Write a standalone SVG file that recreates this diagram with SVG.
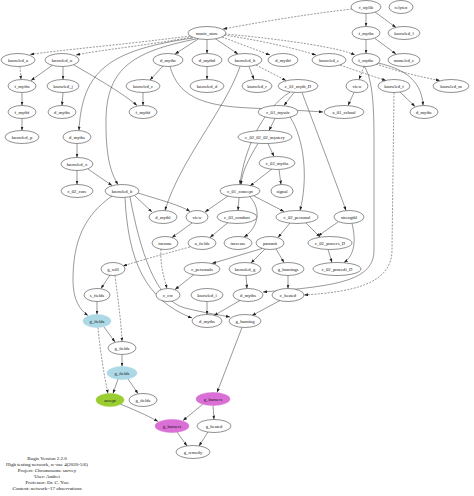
<svg xmlns="http://www.w3.org/2000/svg" width="474" height="496" viewBox="0 0 474 496">
<style>
.n ellipse{fill:#fff;stroke:#333;stroke-width:0.55}
.n text{font-family:"Liberation Serif",serif;font-size:4.6px;text-anchor:middle;fill:#111}
.e path{fill:none;stroke:#333;stroke-width:0.5;marker-end:url(#a)}
.e path.d{stroke-dasharray:2,1.3}
.ft{font-family:"Liberation Serif",serif;font-size:5px;text-anchor:middle;fill:#111}
.blue ellipse{fill:#add8e6;stroke:#add8e6}
.green ellipse{fill:#9acd32;stroke:#9acd32}
.pink ellipse{fill:#da70d6;stroke:#da70d6}
</style>
<defs>
<marker id="a" markerUnits="userSpaceOnUse" markerWidth="4" markerHeight="3" refX="4" refY="1.5" orient="auto"><path d="M0,0 L4,1.5 L0,3 z" fill="#222"/></marker>
</defs>
<rect width="474" height="496" fill="#fff"/>
<g id="edges" class="e">
<path class="d" d="M190,36 C120,45 60,50 30,54.5"/>
<path class="d" d="M192,37 C150,45 100,50 76,55"/>
<path d="M193,38 C110,50 82,70 79,130.5"/>
<path d="M196,39 C130,52 105,70 106,125 C106,160 112,175 118,184.5"/>
<path d="M199,38.5 L175,54"/>
<path d="M207,39.5 L207,53.5"/>
<path d="M215,38.5 L238,54"/>
<path class="d" d="M222,37 L270,55"/>
<path class="d" d="M224,35 C270,42 300,50 316,55"/>
<path class="d" d="M225,34 C290,40 340,48 355,55"/>
<path class="d" d="M352,9 C300,15 250,24 223,29"/>
<path d="M366,13.5 L366,26.5"/>
<path d="M375,12 L396,27.5"/>
<path d="M366,39.5 L366,53.5"/>
<path d="M375,38.5 L396,54"/>
<path class="d" d="M364,66.5 L359,79.5"/>
<path class="d" d="M340,65 C360,72 375,77 386,80.5"/>
<path class="d" d="M376,64 C400,72 425,78 440,80.5"/>
<path d="M378,63 C410,70 422,85 423,105.5"/>
<path d="M400,92 L415,106.5"/>
<path d="M354,92.5 L348,105.5"/>
<path d="M170,66.5 C178,95 200,106 250,108 C290,110 310,111 323,112"/>
<path d="M163,66 L150,80"/>
<path d="M52,65.5 L31,80.5"/>
<path d="M63,66.5 L63,79.5"/>
<path d="M74,65 C100,80 125,95 137,105.5"/>
<path class="d" d="M20,66.5 L21,79.5"/>
<path d="M22,92.5 L22,105.5"/>
<path d="M63,92.5 L62,105.5"/>
<path d="M143,92.5 L143,105.5"/>
<path d="M22,118.5 L22,130.5"/>
<path d="M207,66.5 L207,79.5"/>
<path d="M249,66.5 L254,79.5"/>
<path class="d" d="M256,65 L286,80.5"/>
<path d="M240,66.5 C225,110 180,160 165,210.5"/>
<path d="M290,92 C262,110 244,150 240,184.5"/>
<path d="M294,92.5 L284,105.5"/>
<path d="M302,92.5 C320,140 335,180 346,210.5"/>
<path d="M275,118.5 L269,130.5"/>
<path d="M290,117 C305,140 308,180 300,210.5"/>
<path d="M268,143.5 L274,156.5"/>
<path d="M258,143.5 C248,160 242,172 241,184.5"/>
<path d="M279,169.5 L281,184.5"/>
<path d="M272,169 L250,186"/>
<path d="M135,196 L152,212"/>
<path d="M138,193 C160,200 180,205 190,211.5"/>
<path d="M228,196 L205,212"/>
<path d="M239,197.5 L238,210.5"/>
<path d="M254,196 L284,211.5"/>
<path d="M250,197 C262,210 258,228 244,237"/>
<path d="M192,223 L172,237.5"/>
<path d="M228,222.5 L210,237.5"/>
<path d="M290,223 L278,237.5"/>
<path d="M306,223 L320,237"/>
<path d="M338,222 L318,236"/>
<path d="M352,223.5 C356,240 355,255 344,262.5"/>
<path d="M328,249.5 L332,262.5"/>
<path d="M262,248.5 L212,263.5"/>
<path d="M265,249 L251,263"/>
<path d="M276,249 L284,262.5"/>
<path class="d" d="M190,247 C160,255 135,262 123,266"/>
<path class="d" d="M161,249 C160,265 164,278 167,288.5"/>
<path d="M194,274.5 L175,289.5"/>
<path d="M246,275.5 L247,288.5"/>
<path d="M288,275.5 L288,288.5"/>
<path d="M207,301.5 L207,314.5"/>
<path d="M240,300.5 L214,315.5"/>
<path d="M280,300.5 L252,315.5"/>
<path d="M362,63 C372,75 374,100 374,140 L374,250 C374,280 340,286 263,292"/>
<path class="d" d="M394,92.5 L392,250 C392,285 350,292 304,295"/>
<path d="M125,197.5 C128,260 145,300 192,318"/>
<path d="M130,197 C140,250 155,300 185,308 C205,313 220,315 230,317"/>
<path d="M112,196 C85,215 73,240 73,280 C73,300 80,310 88,315.5"/>
<path d="M77,170.5 L77,184.5"/>
<path d="M88,169 L112,185.5"/>
<path d="M77,143.5 L77,157.5"/>
<path d="M110,275 L101,288.5"/>
<path class="d" d="M115,275.5 C118,300 121,320 122,341.5"/>
<path d="M97,301.5 L97,314.5"/>
<path d="M104,327 L115,342"/>
<path class="d" d="M98,327.5 C100,350 104,375 108,393.5"/>
<path d="M122,354.5 L122,366.5"/>
<path d="M118,379 L113,393.5"/>
<path d="M128,379 L138,393.5"/>
<path d="M120,404 C140,412 152,418 158,421.5"/>
<path d="M242,327.5 L217,392.5"/>
<path d="M203,404 L183,420.5"/>
<path d="M213,405.5 L214,419.5"/>
<path d="M177,432 L187,446"/>
<path d="M208,432 L199,446"/>
</g>
<g id="f_stylib" class="n"><ellipse cx="366" cy="7" rx="15" ry="6.5"/><text x="366" y="8.6">f_stylib</text></g>
<g id="relyten" class="n"><ellipse cx="401" cy="7" rx="12" ry="6.5"/><text x="401" y="8.6">relyten</text></g>
<g id="music_store" class="n"><ellipse cx="207" cy="33" rx="19" ry="6.5"/><text x="207" y="34.6">music_store</text></g>
<g id="f_myths_a" class="n"><ellipse cx="366" cy="33" rx="14" ry="6.5"/><text x="366" y="34.6">f_myths</text></g>
<g id="knowled_l" class="n"><ellipse cx="404" cy="33" rx="16" ry="6.5"/><text x="404" y="34.6">knowled_l</text></g>
<g id="knowled_a" class="n"><ellipse cx="18" cy="60" rx="17" ry="6.5"/><text x="18" y="61.6">knowled_a</text></g>
<g id="knowled_n" class="n"><ellipse cx="62" cy="60" rx="17" ry="6.5"/><text x="62" y="61.6">knowled_n</text></g>
<g id="d_mythc" class="n"><ellipse cx="168" cy="60" rx="15" ry="6.5"/><text x="168" y="61.6">d_mythc</text></g>
<g id="d_mythd" class="n"><ellipse cx="207" cy="60" rx="15" ry="6.5"/><text x="207" y="61.6">d_mythd</text></g>
<g id="knowled_h" class="n"><ellipse cx="245" cy="60" rx="17" ry="6.5"/><text x="245" y="61.6">knowled_h</text></g>
<g id="d_mythf" class="n"><ellipse cx="283" cy="60" rx="15" ry="6.5"/><text x="283" y="61.6">d_mythf</text></g>
<g id="knowled_e" class="n"><ellipse cx="329" cy="60" rx="17" ry="6.5"/><text x="329" y="61.6">knowled_e</text></g>
<g id="f_mythe" class="n"><ellipse cx="366" cy="60" rx="14" ry="6.5"/><text x="366" y="61.6">f_mythe</text></g>
<g id="knowled_o" class="n"><ellipse cx="404" cy="60" rx="16" ry="6.5"/><text x="404" y="61.6">moneled_c</text></g>
<g id="f_mythk" class="n"><ellipse cx="22" cy="86" rx="14" ry="6.5"/><text x="22" y="87.6">f_myths</text></g>
<g id="knowled_j" class="n"><ellipse cx="63" cy="86" rx="16" ry="6.5"/><text x="63" y="87.6">knowled_j</text></g>
<g id="knowled_c" class="n"><ellipse cx="143" cy="86" rx="17" ry="6.5"/><text x="143" y="87.6">knowled_c</text></g>
<g id="knowled_d" class="n"><ellipse cx="207" cy="86" rx="17" ry="6.5"/><text x="207" y="87.6">knowled_d</text></g>
<g id="knowled_r" class="n"><ellipse cx="257" cy="86" rx="15" ry="6.5"/><text x="257" y="87.6">knowled_r</text></g>
<g id="c_01_myth_D" class="n"><ellipse cx="298" cy="86" rx="20" ry="6.5"/><text x="298" y="87.6">c_01_myth_D</text></g>
<g id="view_a" class="n"><ellipse cx="357" cy="86" rx="11" ry="6.5"/><text x="357" y="87.6">view</text></g>
<g id="knowled_f" class="n"><ellipse cx="394" cy="86" rx="16" ry="6.5"/><text x="394" y="87.6">knowled_f</text></g>
<g id="knowled_m" class="n"><ellipse cx="451" cy="86" rx="18" ry="6.5"/><text x="451" y="87.6">knowled_m</text></g>
<g id="f_mythf" class="n"><ellipse cx="22" cy="112" rx="14" ry="6.5"/><text x="22" y="113.6">f_mythf</text></g>
<g id="d_myths1" class="n"><ellipse cx="62" cy="112" rx="14" ry="6.5"/><text x="62" y="113.6">d_myths</text></g>
<g id="f_mythg" class="n"><ellipse cx="143" cy="112" rx="14" ry="6.5"/><text x="143" y="113.6">f_mythf</text></g>
<g id="c_01_mystic" class="n"><ellipse cx="278" cy="112" rx="20" ry="6.5"/><text x="278" y="113.6">c_01_mystic</text></g>
<g id="a_01_school" class="n"><ellipse cx="344" cy="112" rx="20" ry="6.5"/><text x="344" y="113.6">a_01_school</text></g>
<g id="d_mythe" class="n"><ellipse cx="424" cy="112" rx="14" ry="6.5"/><text x="424" y="113.6">d_mythe</text></g>
<g id="knowled_p" class="n"><ellipse cx="22" cy="137" rx="17" ry="6.5"/><text x="22" y="138.6">knowled_p</text></g>
<g id="d_myths2" class="n"><ellipse cx="77" cy="137" rx="14" ry="6.5"/><text x="77" y="138.6">d_myths</text></g>
<g id="c_02_mystery" class="n"><ellipse cx="265" cy="137" rx="27" ry="6.5"/><text x="265" y="138.6">c_02_02_02_mystery</text></g>
<g id="knowled_x" class="n"><ellipse cx="77" cy="164" rx="16" ry="6.5"/><text x="77" y="165.6">knowled_x</text></g>
<g id="c_02_myths" class="n"><ellipse cx="277" cy="163" rx="18" ry="6.5"/><text x="277" y="164.6">c_02_myths</text></g>
<g id="c_02_core" class="n"><ellipse cx="77" cy="191" rx="16" ry="6.5"/><text x="77" y="192.6">c_02_core</text></g>
<g id="knowled_b" class="n"><ellipse cx="122" cy="191" rx="17" ry="6.5"/><text x="122" y="192.6">knowled_b</text></g>
<g id="c_01_concept" class="n"><ellipse cx="240" cy="191" rx="20" ry="6.5"/><text x="240" y="192.6">c_01_concept</text></g>
<g id="signal" class="n"><ellipse cx="282" cy="191" rx="11" ry="6.5"/><text x="282" y="192.6">signal</text></g>
<g id="d_mythl" class="n"><ellipse cx="163" cy="217" rx="14" ry="6.5"/><text x="163" y="218.6">d_mythl</text></g>
<g id="view_b" class="n"><ellipse cx="197" cy="217" rx="11" ry="6.5"/><text x="197" y="218.6">view</text></g>
<g id="c_03_conduct" class="n"><ellipse cx="237" cy="217" rx="20" ry="6.5"/><text x="237" y="218.6">c_03_conduct</text></g>
<g id="c_02_personal" class="n"><ellipse cx="297" cy="217" rx="21" ry="6.5"/><text x="297" y="218.6">c_02_personal</text></g>
<g id="strength" class="n"><ellipse cx="349" cy="217" rx="15" ry="6.5"/><text x="349" y="218.6">strengthl</text></g>
<g id="income" class="n"><ellipse cx="165" cy="243" rx="13" ry="6.5"/><text x="165" y="244.6">income</text></g>
<g id="a_fields" class="n"><ellipse cx="202" cy="243" rx="14" ry="6.5"/><text x="202" y="244.6">a_fields</text></g>
<g id="increase" class="n"><ellipse cx="238" cy="243" rx="14" ry="6.5"/><text x="238" y="244.6">increase</text></g>
<g id="paramit" class="n"><ellipse cx="270" cy="243" rx="14" ry="6.5"/><text x="270" y="244.6">paramit</text></g>
<g id="c_02_powers_D" class="n"><ellipse cx="330" cy="243" rx="22" ry="6.5"/><text x="330" y="244.6">c_02_powers_D</text></g>
<g id="g_will" class="n"><ellipse cx="113" cy="269" rx="12" ry="6.5"/><text x="113" y="270.6">g_will</text></g>
<g id="c_personals" class="n"><ellipse cx="202" cy="269" rx="18" ry="6.5"/><text x="202" y="270.6">c_personals</text></g>
<g id="knowled_g" class="n"><ellipse cx="245" cy="269" rx="16" ry="6.5"/><text x="245" y="270.6">knowled_g</text></g>
<g id="g_burnings" class="n"><ellipse cx="288" cy="269" rx="16" ry="6.5"/><text x="288" y="270.6">g_burnings</text></g>
<g id="c_02_procedi_D" class="n"><ellipse cx="337" cy="269" rx="24" ry="6.5"/><text x="337" y="270.6">c_02_procedi_D</text></g>
<g id="s_fields" class="n"><ellipse cx="97" cy="295" rx="13" ry="6.5"/><text x="97" y="296.6">s_fields</text></g>
<g id="c_crc" class="n"><ellipse cx="168" cy="295" rx="12" ry="6.5"/><text x="168" y="296.6">c_crc</text></g>
<g id="knowled_i" class="n"><ellipse cx="207" cy="295" rx="16" ry="6.5"/><text x="207" y="296.6">knowled_i</text></g>
<g id="d_mythz" class="n"><ellipse cx="248" cy="295" rx="15" ry="6.5"/><text x="248" y="296.6">d_myths</text></g>
<g id="c_heated" class="n"><ellipse cx="288" cy="295" rx="16" ry="6.5"/><text x="288" y="296.6">c_heated</text></g>
<g id="g_fields_a" class="n blue"><ellipse cx="97" cy="321" rx="14" ry="6.5"/><text x="97" y="322.6">g_fields</text></g>
<g id="d_mythy" class="n"><ellipse cx="207" cy="321" rx="15" ry="6.5"/><text x="207" y="322.6">d_myths</text></g>
<g id="g_burning" class="n"><ellipse cx="245" cy="321" rx="16" ry="6.5"/><text x="245" y="322.6">g_burning</text></g>
<g id="g_fields_b" class="n"><ellipse cx="122" cy="348" rx="14" ry="6.5"/><text x="122" y="349.6">g_fields</text></g>
<g id="g_fields_c" class="n blue"><ellipse cx="122" cy="373" rx="15" ry="6.5"/><text x="122" y="374.6">g_fields</text></g>
<g id="accept" class="n green"><ellipse cx="110" cy="400" rx="14" ry="6.5"/><text x="110" y="401.6">accept</text></g>
<g id="g_fields_d" class="n"><ellipse cx="143" cy="400" rx="14" ry="6.5"/><text x="143" y="401.6">g_fields</text></g>
<g id="g_burners_a" class="n pink"><ellipse cx="213" cy="399" rx="17" ry="6.5"/><text x="213" y="400.6">g_burners</text></g>
<g id="g_burners_b" class="n pink"><ellipse cx="172" cy="426" rx="17" ry="6.5"/><text x="172" y="427.6">g_burners</text></g>
<g id="g_heated" class="n"><ellipse cx="214" cy="426" rx="17" ry="6.5"/><text x="214" y="427.6">g_heated</text></g>
<g id="g_remedy" class="n"><ellipse cx="193" cy="452" rx="17" ry="6.5"/><text x="193" y="453.6">g_remedy</text></g>
<g id="footer">
<text class="ft" x="47" y="460">Bugis Version 2.2.0</text>
<text class="ft" x="47" y="466">High testing network, re-use 4(2020-5/6)</text>
<text class="ft" x="47" y="472">Project: Chromosome survey</text>
<text class="ft" x="47" y="478">User: Andrei</text>
<text class="ft" x="47" y="484">Professor: Dr. C. Yoo</text>
<text class="ft" x="47" y="490">Content: network=17 observations</text>
</g>
</svg>
